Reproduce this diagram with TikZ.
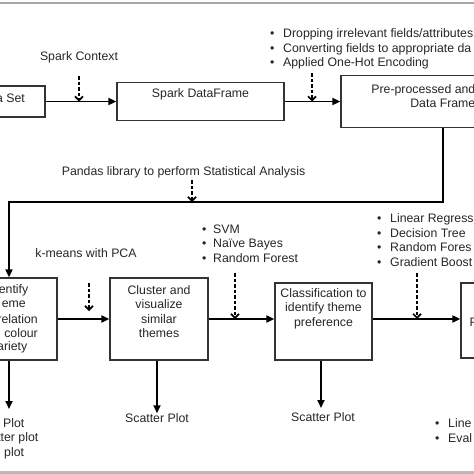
\documentclass[tikz,border=0pt]{standalone}
\usepackage{fontspec}
\setmainfont{Liberation Sans}
\usetikzlibrary{positioning,arrows.meta,calc}

% bullet item with a fixed gap before the text
\newcommand{\bl}[2][13pt]{\makebox[#1][l]{\textbullet}#2}

\begin{document}
\begin{tikzpicture}[
  x=1pt, y=-1pt,
  flow/.style={-{Triangle[length=8pt,width=7pt]}, line width=1.7pt},
  hint/.style={-{Straight Barb[length=4pt,width=8pt]}, dash pattern=on 3.5pt off 2pt, line width=1.7pt},
  box/.style={draw=black!80, line width=1.2pt, fill=white, inner sep=0pt},
  txt/.style={font=\fontsize{12.3}{14.5}\selectfont, text=black!85, inner sep=0pt}
]

% -----------------------
% Frame
% -----------------------
\useasboundingbox (0,0) rectangle (474,474);
\clip (0,0) rectangle (474,474);
\draw[gray!70, line width=1.4pt] (0,3) -- (474,3);
\fill[gray!55] (0,470.5) rectangle (474,474);

% -----------------------
% Layout parameters
% -----------------------
\def\yA{101.5}  % top row
\def\yB{319}    % bottom row

% -----------------------
% Top row
% -----------------------
\node[box, minimum width=105, minimum height=31] (data) at (-7.5,\yA) {};
\node[txt, anchor=east] (datatxt) at (25,98) {a Set};

\node[box, minimum width=167, minimum height=38] (sdf) at (200.5,\yA) {};
\node[txt] (sdftxt) at ([yshift=7pt]sdf.center) {Spark DataFrame};

\node[box, minimum width=204, minimum height=52] (clean) at (443,\yA) {};
\node[txt, align=right, anchor=east] (cleantxt) at (475.5,96) {Pre-processed and\\Data Frame};

\draw[flow] (data.east) -- (sdf.west);
\draw[flow] (sdf.east) -- (clean.west);

% Spark Context
\node[txt] (ctx) at (79,57) {Spark Context};
\coordinate (ctxtop) at (79,76);
\draw[hint] (ctxtop) -- (ctxtop |- data.east);

% pre-processing steps
\node[txt, align=left, anchor=west] (prep) at (270,49)
  {\bl{Dropping irrelevant fields/attributes}\\
   \bl{Converting fields to appropriate da}\\
   \bl{Applied One-Hot Encoding}};
\coordinate (preptop) at (312,73);
\draw[hint] (preptop) -- (preptop |- sdf.east);

% -----------------------
% Bottom row
% -----------------------
\node[box, minimum width=96, minimum height=82] (ident) at (9,\yB) {};
\node[txt, anchor=east] (identA) at (28.5,290) {entify};
\node[txt, anchor=east] (identB) at (26,304.5) {eme};
\node[txt, anchor=east] (identC) at (38,319) {relation};
\node[txt, anchor=east] (identD) at (38,333) {colour};
\node[txt, anchor=east] (identE) at (27.5,347) {ariety};

\node[box, minimum width=98, minimum height=82] (clus) at (159,\yB) {};
\node[txt, align=center] (clustxt) at (159,311.5) {Cluster and\\visualize\\similar\\themes};

\node[box, minimum width=97, minimum height=77] (cls) at (323.5,321.5) {};
\node[txt, align=center] (clstxt) at (323.5,308.5) {Classification to\\identify theme\\preference};

\node[box, minimum width=99, minimum height=75] (pred) at (510.5,320.5) {};
\node[txt, anchor=west] (predtxt) at (469.5,322) {P};

% statistical analysis feeds the bottom row
\draw[flow] (clean.south) -- ++(0,74) -| (ident.north);
\node[txt] (pandas) at (183.5,172) {Pandas library to perform Statistical Analysis};
\coordinate (pandastop) at (192,180);
\draw[hint] (pandastop) -- (192,202);

\draw[flow] (ident.east) -- (ident.east -| clus.west);
\draw[flow] (clus.east) -- (clus.east -| cls.west);
\draw[flow] (cls.east |- clus.east) -- (clus.east -| pred.west);

% techniques
\node[txt] (kmeans) at (86,253) {k-means with PCA};
\coordinate (kmtop) at (89,283);
\coordinate (kmend) at (89,311);
\draw[hint] (kmtop) -- (kmend);

\node[txt, align=left, anchor=west] (clf) at (202,243.5)
  {\bl[11pt]{SVM}\\ \bl[11pt]{Naïve Bayes}\\ \bl[11pt]{Random Forest}};
\coordinate (clftop) at (235,273);
\draw[hint] (clftop) -- (clftop |- clus.east);

\node[txt, align=left, anchor=west] (reg) at (377,240)
  {\bl{Linear Regress}\\ \bl{Decision Tree}\\ \bl{Random Fores}\\ \bl{Gradient Boost}};
\coordinate (regtop) at (417,273);
\draw[hint] (regtop) -- (regtop |- clus.east);

% -----------------------
% Outputs
% -----------------------
\node[txt, anchor=west] (outA) at (3,423) {Plot};
\node[txt, anchor=east] (outB) at (38.5,438) {tter plot};
\node[txt, anchor=west] (outC) at (4,453) {plot};
\draw[flow] (ident.south) -- (ident.south |- 0,409);

\node[txt] (scatA) at (157,418) {Scatter Plot};
\draw[flow] (clus.south -| scatA) -- (scatA.north);

\node[txt] (scatB) at (323,417) {Scatter Plot};
\draw[flow] (cls.south -| 321,0) -- (321,408);

\node[txt, align=left, anchor=west] (evalA) at (435,430.5)
  {\bl{Line}\\ \bl{Eval}};

\end{tikzpicture}
\end{document}
